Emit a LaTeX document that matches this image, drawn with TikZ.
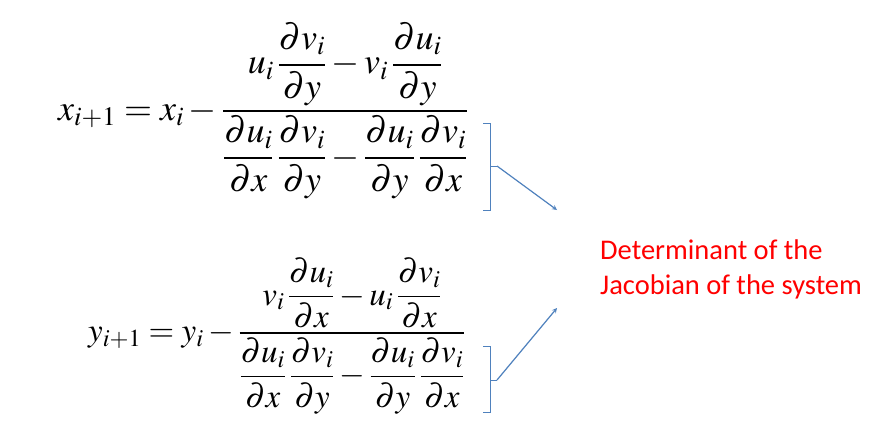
\documentclass[tikz,border=0pt]{standalone}
\usepackage{mathptmx}
\usepackage{fontspec}
\newfontfamily\calfont{Carlito}
\usepackage{amsmath}
\definecolor{arr}{RGB}{79,129,189}
\begin{document}
\begin{tikzpicture}[x=1pt,y=-1pt,
  eq/.style={inner sep=0pt,anchor=west,font=\fontsize{36}{42}\selectfont},
  brk/.style={draw=arr,line width=1pt},
  ar/.style={draw=arr,line width=1.2pt,-stealth}]
\useasboundingbox (0,0) rectangle (872,429);
\node[eq] (e1) at (58,111) {$x_{i+1}=x_i-\dfrac{u_i\,\dfrac{\partial v_i}{\partial y}-v_i\,\dfrac{\partial u_i}{\partial y}}{\dfrac{\partial u_i}{\partial x}\,\dfrac{\partial v_i}{\partial y}-\dfrac{\partial u_i}{\partial y}\,\dfrac{\partial v_i}{\partial x}}$};
\node[eq,font=\fontsize{33}{40}\selectfont] (e2) at (88,336) {$y_{i+1}=y_i-\dfrac{v_i\,\dfrac{\partial u_i}{\partial x}-u_i\,\dfrac{\partial v_i}{\partial x}}{\dfrac{\partial u_i}{\partial x}\,\dfrac{\partial v_i}{\partial y}-\dfrac{\partial u_i}{\partial y}\,\dfrac{\partial v_i}{\partial x}}$};
\coordinate (b1) at (497,166);
\coordinate (b2) at (497,380);
\draw[brk] (483,123) -- (490,123) -- (490,210) -- (483,210);
\draw[brk] (490,166) -- (b1);
\draw[brk] (483,346) -- (490,346) -- (490,412) -- (483,412);
\draw[brk] (490,380) -- (b2);
\node[font=\calfont\fontsize{28.5}{35}\selectfont,text=red,align=left,anchor=north west,inner sep=0pt] (t) at (600,240) {Determinant of the\\Jacobian of the system};
\coordinate (a1) at (557,210);
\coordinate (a2) at (557,308);
\draw[ar] (b1) -- (a1);
\draw[ar] (b2) -- (a2);
\end{tikzpicture}
\end{document}
